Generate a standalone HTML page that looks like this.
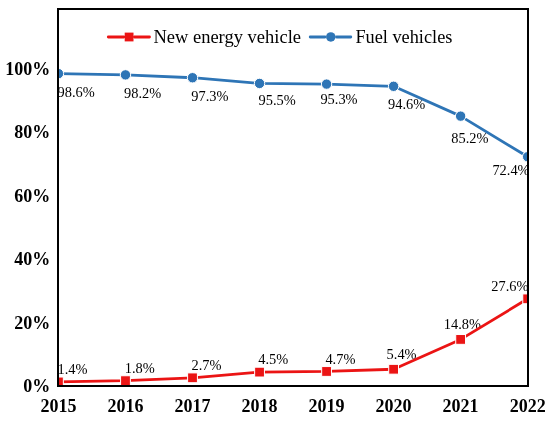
<!DOCTYPE html><html><head><meta charset="utf-8"><style>html,body{margin:0;padding:0;background:#fff;width:550px;height:423px;overflow:hidden}svg{display:block;will-change:transform}</style></head><body>
<svg width="550" height="423" viewBox="0 0 550 423" font-family="Liberation Serif">
<defs><clipPath id="pa"><rect x="58" y="9" width="470" height="377"/></clipPath></defs>
<rect x="0" y="0" width="550" height="423" fill="#fff"/>
<g clip-path="url(#pa)">
<text x="57.5" y="96.5" font-size="14.4">98.6%</text>
<text x="124.0" y="98.2" font-size="14.4">98.2%</text>
<text x="191.3" y="101.3" font-size="14.4">97.3%</text>
<text x="258.6" y="104.6" font-size="14.4">95.5%</text>
<text x="320.4" y="103.6" font-size="14.4">95.3%</text>
<text x="388.0" y="109.0" font-size="14.4">94.6%</text>
<text x="451.3" y="142.8" font-size="14.4">85.2%</text>
<text x="492.4" y="174.7" font-size="14.4">72.4%</text>
<text x="57.5" y="374.3" font-size="14.4">1.4%</text>
<text x="124.8" y="373.3" font-size="14.4">1.8%</text>
<text x="191.5" y="370.0" font-size="14.4">2.7%</text>
<text x="258.2" y="364.0" font-size="14.4">4.5%</text>
<text x="325.4" y="363.7" font-size="14.4">4.7%</text>
<text x="386.6" y="358.6" font-size="14.4">5.4%</text>
<text x="443.8" y="328.8" font-size="14.4">14.8%</text>
<text x="491.3" y="290.9" font-size="14.4">27.6%</text>
<polyline points="58.45,73.61 125.48,74.88 192.51,77.73 259.54,83.44 326.57,84.08 393.60,86.30 460.63,116.12 527.66,156.72" fill="none" stroke="#2E75B6" stroke-width="2.8" stroke-linejoin="round" stroke-linecap="round"/>
<circle cx="58.45" cy="73.61" r="5.20" fill="#2E75B6" stroke="#fff" stroke-width="1.0"/>
<circle cx="125.48" cy="74.88" r="5.20" fill="#2E75B6" stroke="#fff" stroke-width="1.0"/>
<circle cx="192.51" cy="77.73" r="5.20" fill="#2E75B6" stroke="#fff" stroke-width="1.0"/>
<circle cx="259.54" cy="83.44" r="5.20" fill="#2E75B6" stroke="#fff" stroke-width="1.0"/>
<circle cx="326.57" cy="84.08" r="5.20" fill="#2E75B6" stroke="#fff" stroke-width="1.0"/>
<circle cx="393.60" cy="86.30" r="5.20" fill="#2E75B6" stroke="#fff" stroke-width="1.0"/>
<circle cx="460.63" cy="116.12" r="5.20" fill="#2E75B6" stroke="#fff" stroke-width="1.0"/>
<circle cx="527.66" cy="156.72" r="5.20" fill="#2E75B6" stroke="#fff" stroke-width="1.0"/>
<polyline points="58.45,381.93 125.48,380.66 192.51,377.81 259.54,372.10 326.57,371.46 393.60,369.24 460.63,339.42 527.66,298.82" fill="none" stroke="#EB1414" stroke-width="2.8" stroke-linejoin="round" stroke-linecap="round"/>
<rect x="53.55" y="377.03" width="9.80" height="9.80" fill="#EB1414" stroke="#fff" stroke-width="1.0"/>
<rect x="120.58" y="375.76" width="9.80" height="9.80" fill="#EB1414" stroke="#fff" stroke-width="1.0"/>
<rect x="187.61" y="372.91" width="9.80" height="9.80" fill="#EB1414" stroke="#fff" stroke-width="1.0"/>
<rect x="254.64" y="367.20" width="9.80" height="9.80" fill="#EB1414" stroke="#fff" stroke-width="1.0"/>
<rect x="321.67" y="366.56" width="9.80" height="9.80" fill="#EB1414" stroke="#fff" stroke-width="1.0"/>
<rect x="388.70" y="364.34" width="9.80" height="9.80" fill="#EB1414" stroke="#fff" stroke-width="1.0"/>
<rect x="455.73" y="334.52" width="9.80" height="9.80" fill="#EB1414" stroke="#fff" stroke-width="1.0"/>
<rect x="522.76" y="293.92" width="9.80" height="9.80" fill="#EB1414" stroke="#fff" stroke-width="1.0"/>
</g>
<rect x="58" y="9" width="470" height="377" fill="none" stroke="#000" stroke-width="2"/>
<text x="50.2" y="392.1" font-size="18" font-weight="bold" text-anchor="end">0%</text>
<text x="50.2" y="328.6" font-size="18" font-weight="bold" text-anchor="end">20%</text>
<text x="50.2" y="265.2" font-size="18" font-weight="bold" text-anchor="end">40%</text>
<text x="50.2" y="201.7" font-size="18" font-weight="bold" text-anchor="end">60%</text>
<text x="50.2" y="138.3" font-size="18" font-weight="bold" text-anchor="end">80%</text>
<text x="50.2" y="74.9" font-size="18" font-weight="bold" text-anchor="end">100%</text>
<text x="58.5" y="411.8" font-size="18" font-weight="bold" text-anchor="middle">2015</text>
<text x="125.5" y="411.8" font-size="18" font-weight="bold" text-anchor="middle">2016</text>
<text x="192.5" y="411.8" font-size="18" font-weight="bold" text-anchor="middle">2017</text>
<text x="259.5" y="411.8" font-size="18" font-weight="bold" text-anchor="middle">2018</text>
<text x="326.6" y="411.8" font-size="18" font-weight="bold" text-anchor="middle">2019</text>
<text x="393.6" y="411.8" font-size="18" font-weight="bold" text-anchor="middle">2020</text>
<text x="460.6" y="411.8" font-size="18" font-weight="bold" text-anchor="middle">2021</text>
<text x="527.7" y="411.8" font-size="18" font-weight="bold" text-anchor="middle">2022</text>
<line x1="108.3" y1="37" x2="123.8" y2="37" stroke="#EB1414" stroke-width="2.8" stroke-linecap="round"/>
<line x1="134.4" y1="37" x2="149.5" y2="37" stroke="#EB1414" stroke-width="2.8" stroke-linecap="round"/>
<rect x="124.7" y="32.6" width="8.8" height="8.8" fill="#EB1414"/>
<text x="153.4" y="43.1" font-size="18.5">New energy vehicle</text>
<line x1="310.2" y1="37" x2="325" y2="37" stroke="#2E75B6" stroke-width="2.8" stroke-linecap="round"/>
<line x1="336.5" y1="37" x2="350.8" y2="37" stroke="#2E75B6" stroke-width="2.8" stroke-linecap="round"/>
<circle cx="330.8" cy="36.9" r="4.75" fill="#2E75B6"/>
<text x="355.4" y="43.1" font-size="18.3">Fuel vehicles</text>
</svg></body></html>
